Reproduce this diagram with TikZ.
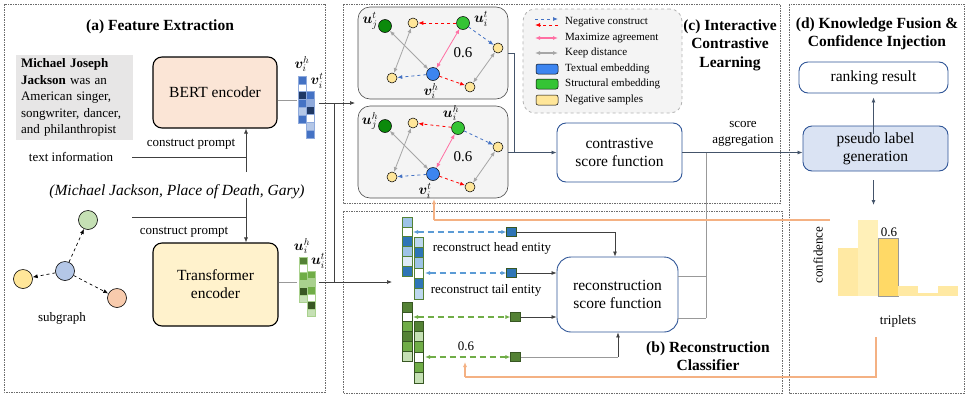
\documentclass[tikz,border=0pt]{standalone}
\usepackage{fontspec}
\setmainfont{Liberation Serif}
\usepackage{amsmath}
\usepackage{bm}
\usetikzlibrary{arrows.meta}
\definecolor{peach}{HTML}{FBE5D6}
\definecolor{lyellow}{HTML}{FFF2CC}
\definecolor{boxgray}{HTML}{E7E6E6}
\definecolor{innergray}{HTML}{F4F4F4}
\definecolor{tblue}{HTML}{3D85F0}
\definecolor{sgreen}{HTML}{35C435}
\definecolor{dgreen}{HTML}{0B8A0B}
\definecolor{negy}{HTML}{FFE699}
\definecolor{pinkc}{HTML}{FF6FA3}
\definecolor{navyb}{HTML}{2F5597}
\definecolor{slate}{HTML}{44546A}
\definecolor{orangec}{HTML}{F4B183}
\definecolor{dashb}{HTML}{4472C4}
\definecolor{lineb}{HTML}{5B9BD5}
\definecolor{lineg}{HTML}{70AD47}
\definecolor{plfill}{HTML}{DAE3F3}
\definecolor{sgblue}{HTML}{B4C7E7}
\definecolor{sggreen}{HTML}{C5E0B4}
\definecolor{sgpeach}{HTML}{F8CBAD}
\definecolor{cbm}{HTML}{4472C4}
\definecolor{cbn}{HTML}{1F3864}
\definecolor{cbl}{HTML}{B4C7E7}
\definecolor{cbl2}{HTML}{8FAADC}
\definecolor{cgd}{HTML}{385723}
\definecolor{cgm}{HTML}{70AD47}
\definecolor{cgm2}{HTML}{548235}
\definecolor{cgl}{HTML}{A9D18E}
\definecolor{cgl2}{HTML}{C5E0B4}
\definecolor{pbm}{HTML}{2E75B6}
\definecolor{pbl}{HTML}{9DC3E6}
\definecolor{pbl2}{HTML}{BDD7EE}
\definecolor{pbl3}{HTML}{DEEBF7}
\definecolor{bar1}{HTML}{FFE9A3}
\definecolor{bar2}{HTML}{FFF0B8}
\definecolor{bar3}{HTML}{FFD966}
\newcommand{\embcol}[6]{%
  \foreach \cc [count=\k from 0] in {#6}{%
    \filldraw[fill=\cc, draw=#5, line width=0.5pt] (#1,#2+\k*#4) rectangle ++(#3,#4);
  }}
\begin{document}
\begin{tikzpicture}[x=1pt,y=-1pt,
  >={Latex[length=5pt,width=4pt]},
  panel/.style={draw=gray!85!black, dash pattern=on 1.5pt off 1pt, line width=0.5pt},
  ttl/.style={font=\fontsize{15.5}{18.5}\selectfont\bfseries, align=center},
  txt/.style={font=\fontsize{13}{15}\selectfont, inner sep=1pt},
  bigtxt/.style={font=\fontsize{15.5}{18}\selectfont, align=center},
  enc/.style={draw=black, line width=1.1pt, rounded corners=9pt, bigtxt},
  sbox/.style={draw=navyb, line width=0.9pt, rounded corners=9pt, fill=white, bigtxt},
  ibox/.style={draw=gray!60!black, line width=0.6pt, rounded corners=12pt, fill=innergray, minimum width=150pt, minimum height=92pt},
  yn/.style={circle, draw=black, line width=0.5pt, fill=negy, minimum size=10pt, inner sep=0pt},
  gn/.style={circle, draw=black, line width=0.5pt, fill=sgreen, minimum size=13pt, inner sep=0pt},
  dgn/.style={circle, draw=black, line width=0.5pt, fill=dgreen, minimum size=13pt, inner sep=0pt},
  bnode/.style={circle, draw=black, line width=0.5pt, fill=tblue, minimum size=13pt, inner sep=0pt},
  sgn/.style={circle, draw=black, line width=0.6pt, minimum size=19pt, inner sep=0pt},
  negr/.style={->, draw=red, dashed, line width=0.8pt},
  negb/.style={->, draw=dashb, dashed, line width=0.8pt},
  maxa/.style={<->, draw=pinkc, line width=0.8pt},
  keepd/.style={<->, draw=gray!70, line width=0.8pt},
  mlab/.style={font=\fontsize{14}{16}\selectfont, inner sep=0pt},
  leglab/.style={font=\fontsize{11}{13}\selectfont, anchor=west, inner sep=0pt},
  legrect/.style={draw=black, line width=0.5pt, rounded corners=2pt, minimum width=22pt, minimum height=10pt, inner sep=0pt},
  sq/.style={draw=cgd, line width=0.6pt, minimum size=9.5pt, inner sep=0pt},
  conn/.style={draw=black!75, line width=0.7pt},
  sconn/.style={draw=slate, line width=0.8pt},
  orl/.style={draw=orangec, line width=1.3pt},
  bdash/.style={<->, dashed, dash pattern=on 6pt off 4pt, line width=1.2pt}
]
\useasboundingbox (0,0) rectangle (969,397);

% ---------------- panels
\draw[panel] (4,4) rectangle (325,392);
\draw[panel] (343,4) rectangle (780,203);
\draw[panel] (343,211) rectangle (782,393);
\draw[panel] (789,4) rectangle (964,393);

% ---------------- (a) Feature extraction
\node[ttl] (ta) at (160,27) {(a) Feature Extraction};
\node[fill=boxgray, minimum width=117pt, minimum height=85pt, text width=107pt, align=left,
      font=\fontsize{13}{16.5}\selectfont, inner xsep=5pt] (desc) at (74.5,97.5)
  {\textbf{Michael Joseph}\\\textbf{Jackson} was an\\American singer,\\songwriter, dancer,\\and philanthropist};
\node[enc, fill=peach, minimum width=124pt, minimum height=71pt] (bert) at (215,92.5) {BERT encoder};
\node[enc, fill=lyellow, minimum width=125pt, minimum height=83pt] (trans) at (215.5,284.5) {Transformer\\encoder};

\node[txt] (tinfo) at (71,157) {text information};
\node[txt] (cp1) at (191,144) {construct prompt};
\coordinate (ts) at (132,157);
\coordinate (tj) at (246,157);
\coordinate (tb) at (246,172);
\draw[conn] (ts) -- (tj);
\draw[conn,->] (tb) -- (tb |- bert.south);

\node[font=\fontsize{15.5}{18}\selectfont\itshape, inner sep=0pt] (triple) at (177,192) {(Michael Jackson, Place of Death, Gary)};

\coordinate (gs) at (132,217);
\coordinate (gj) at (246,217);
\coordinate (gt) at (246,198);
\draw[conn] (gs) -- (gj);
\draw[conn,->] (gt) -- (gt |- trans.north);
\node[txt] (cp2) at (184,232) {construct prompt};

% subgraph
\node[sgn, fill=sgblue] (sc) at (65,271) {};
\node[sgn, fill=sggreen] (sg) at (88,220) {};
\node[sgn, fill=negy] (sy) at (23,279) {};
\node[sgn, fill=sgpeach] (sp) at (117,298) {};
\draw[->, dashed, line width=0.7pt] (sc) -- (sg);
\draw[->, dashed, line width=0.7pt] (sc) -- (sy);
\draw[->, dashed, line width=0.7pt] (sc) -- (sp);
\node[txt] (subg) at (62,318) {subgraph};

% embeddings (a)
\embcol{298}{76}{8}{7.8}{cbl2}{cbm,white,cbn,cbm,cbl,cbm}
\embcol{306.5}{91}{8}{7.8}{cbl2}{cbm,cbl2,cbn,white,cbl,cbm}
\embcol{299}{257}{8}{7.6}{cgl}{cgm2,white,cgm,cgl,cgd,cgl2}
\embcol{307.5}{271}{8}{7.6}{cgl}{cgm,cgl,cgm,white,cgd,cgl2}
\node[mlab] (vh) at (302,64) {$\bm{v}_i^h$};
\node[mlab] (vt) at (317,81) {$\bm{v}_i^t$};
\node[mlab] (uh) at (302,246) {$\bm{u}_i^h$};
\node[mlab] (ut) at (318,261) {$\bm{u}_i^t$};
\coordinate (bertemb) at (297,100);
\coordinate (transemb) at (297,282);
\draw[draw=gray!80, line width=0.7pt] (bert.east |- bertemb) -- (bertemb);
\draw[draw=gray!80, line width=0.7pt] (trans.east |- transemb) -- (transemb);

\coordinate (vout) at (319,103);
\coordinate (vj) at (334,103);
\coordinate (uout) at (319,282);
\coordinate (uj) at (334,282);
\coordinate (cin) at (355,103);
\coordinate (bin) at (392,282);
\draw[conn,->] (vout) -- (cin);
\draw[conn] (vj) -- (uj);
\draw[conn,->] (uout) -- (bin);

% ---------------- (c) Interactive contrastive learning
\node[ibox] (box1) at (433,53) {};
\node[ibox] (box2) at (433,152) {};

% box1
\node[dgn] (uj1) at (385,26) {};
\node[yn] (y11) at (413,23) {};
\node[gn] (ui1) at (463,23) {};
\node[yn] (y12) at (498,48) {};
\node[yn] (y13) at (392,78) {};
\node[bnode] (vi1) at (433,74) {};
\node[yn] (y14) at (470,87) {};
\node[mlab] (luj1) at (370,21) {$\bm{u}_j^t$};
\node[mlab] (lui1) at (481,19) {$\bm{u}_i^t$};
\node[mlab] (lvi1) at (431,91) {$\bm{v}_i^h$};
\node[bigtxt, font=\fontsize{15}{17}\selectfont] (s1) at (463,53) {0.6};
\draw[keepd] (uj1) -- (vi1);
\draw[keepd] (y11) -- (y13);
\draw[keepd] (y12) -- (y14);
\draw[maxa] (vi1) -- (ui1);
\draw[negr] (ui1) -- (y11);
\draw[negb] (ui1) -- (y12);
\draw[negb] (vi1) -- (y13);
\draw[negr] (vi1) -- (y14);

% box2
\node[dgn] (uj2) at (385,126) {};
\node[yn] (y21) at (413,123) {};
\node[gn] (ui2) at (458,128) {};
\node[yn] (y22) at (498,147) {};
\node[yn] (y23) at (392,177) {};
\node[bnode] (vi2) at (433,174) {};
\node[yn] (y24) at (470,187) {};
\node[mlab] (luj2) at (370,121) {$\bm{u}_j^h$};
\node[mlab] (lui2) at (451,113) {$\bm{u}_i^h$};
\node[mlab] (lvi2) at (425,191) {$\bm{v}_i^t$};
\node[bigtxt, font=\fontsize{15}{17}\selectfont] (s2) at (463,157) {0.6};
\draw[keepd] (uj2) -- (vi2);
\draw[keepd] (y21) -- (y23);
\draw[keepd] (y22) -- (y24);
\draw[maxa] (vi2) -- (ui2);
\draw[negr] (ui2) -- (y21);
\draw[negb] (ui2) -- (y22);
\draw[negb] (vi2) -- (y23);
\draw[negr] (vi2) -- (y24);

% legend
\node[draw=gray!60, dashed, line width=0.8pt, fill=innergray, rounded corners=12pt,
      minimum width=159pt, minimum height=104pt] (leg) at (602.5,61) {};
\coordinate (l1a) at (535,19); \coordinate (l1b) at (558,19);
\coordinate (l1c) at (535,25); \coordinate (l1d) at (558,25);
\draw[negb] (l1a) -- (l1b);
\draw[negr] (l1d) -- (l1c);
\node[leglab] (lt1) at (565,22) {Negative construct};
\coordinate (l2a) at (535,38); \coordinate (l2b) at (558,38);
\draw[maxa, line width=1.2pt] (l2a) -- (l2b);
\node[leglab] (lt2) at (565,38) {Maximize agreement};
\coordinate (l3a) at (535,53); \coordinate (l3b) at (558,53);
\draw[keepd, line width=1.2pt] (l3a) -- (l3b);
\node[leglab] (lt3) at (565,53) {Keep distance};
\node[legrect, fill=tblue] (lr4) at (547,69) {};
\node[leglab] (lt4) at (565,69) {Textual embedding};
\node[legrect, fill=sgreen] (lr5) at (547,84) {};
\node[leglab] (lt5) at (565,84) {Structural embedding};
\node[legrect, fill=negy] (lr6) at (547,100) {};
\node[leglab] (lt6) at (565,100) {Negative samples};

\node[ttl] (tc) at (730,45) {(c) Interactive\\Contrastive\\Learning};

\node[sbox, minimum width=125pt, minimum height=59pt] (csf) at (619.5,152.5) {contrastive\\score function};
\coordinate (bj) at (514,152.5);
\draw[sconn] (box1.east) -| (bj);
\draw[sconn,->] (box2.east |- csf.west) -- (csf.west);

\node[txt, align=center, font=\fontsize{13}{16}\selectfont] (agg) at (743,134) {score\\aggregation};

% ---------------- (d)
\node[ttl] (td) at (877,34) {(d) Knowledge Fusion \&\\Confidence Injection};
\node[sbox, minimum width=149pt, minimum height=31pt] (rank) at (873.5,77.5) {ranking result};
\node[sbox, fill=plfill, minimum width=145pt, minimum height=45pt] (plg) at (875.5,148.5) {pseudo label\\generation};
\draw[sconn,->] ([yshift=-8pt]plg.north -| rank.south) -- ([yshift=-4pt]rank.south);
\coordinate (hist) at (873.5,205);
\draw[sconn,->] ([yshift=-9pt]plg.south -| hist) -- (hist);
\draw[sconn,->] (csf.east) -- (csf.east -| plg.west);

% histogram
\fill[bar1] (838,248) rectangle (858,296);
\fill[bar2] (858,220) rectangle (878,296);
\filldraw[fill=bar3, draw=gray!80, line width=0.6pt] (878,238) rectangle (898,296);
\fill[bar1] (898,286) rectangle (918,296);
\fill[bar1] (918,293) rectangle (938,296);
\fill[bar1] (938,286) rectangle (958,296);
\node[font=\fontsize{13}{15}\selectfont, inner sep=0pt] (b06) at (889,232) {0.6};
\node[txt, rotate=90] (conf) at (818,255) {confidence};
\node[txt] (trip) at (898,321) {triplets};

% ---------------- (b) Reconstruction classifier
\embcol{402}{217}{10}{9.8}{cgm2}{pbl,white,pbm,pbl,pbl3,pbm}
\embcol{414}{237}{9}{10.3}{cgm2}{pbl2,pbm,pbl,white,pbm,pbl2}
\embcol{402}{302}{10}{9.8}{cgd}{cgm2,white,cgm,cgm2,cgm,cgl2}
\embcol{414}{321}{9}{10.3}{cgd}{cgm2,cgl2,cgm,white,cgm,cgl2}

\node[sq, fill=pbm] (sq1) at (511.5,232) {};
\node[sq, fill=pbm] (sq2) at (511.5,273) {};
\node[sq, fill=cgm2] (sq3) at (515.5,317) {};
\node[sq, fill=cgm2] (sq4) at (515.5,357) {};
\coordinate (r1) at (413,232);
\coordinate (r2) at (425,273);
\coordinate (r3) at (413,317);
\coordinate (r4) at (425,357);
\draw[bdash, draw=lineb] (r1) -- (sq1.west);
\draw[bdash, draw=lineb] (r2) -- (sq2.west);
\draw[bdash, draw=lineg] (r3) -- (sq3.west);
\draw[bdash, draw=lineg] (r4) -- (sq4.west);
\node[txt] (rh) at (492,248) {reconstruct head entity};
\node[txt] (rt) at (486,290) {reconstruct tail entity};
\node[txt] (r06) at (466,346) {0.6};

\node[sbox, minimum width=121pt, minimum height=75pt, rounded corners=14pt] (rsf) at (617.5,294.5) {reconstruction\\score function};
\coordinate (k1) at (615,232);
\draw[conn] (sq1.east) -- (k1);
\draw[conn,->] (k1) -- (k1 |- rsf.north);
\draw[conn,->] (sq2.east) -- (sq2.east -| rsf.west);
\draw[conn,->] (sq3.east) -- (sq3.east -| rsf.west);
\coordinate (k4) at (618,357);
\draw[draw=gray!80, line width=0.7pt] (sq4.east) -- (k4);
\draw[conn,->] (k4) -- (k4 |- rsf.south);

\node[ttl] (tb) at (708,356) {(b) Reconstruction\\Classifier};

% aggregation lines
\coordinate (aj1) at (706,152.5);
\coordinate (aj2) at (706,318);
\coordinate (ra) at (678,276);
\coordinate (rb) at (678,318);
\draw[draw=gray!80, line width=0.7pt] (aj1) -- (aj2);
\draw[draw=gray!80, line width=0.7pt] (ra) -- (ra -| aj1);
\draw[draw=gray!80, line width=0.7pt] (rb) -- (aj2);

% orange feedback lines
\coordinate (o1s) at (830,220);
\coordinate (o1c) at (434,220);
\coordinate (o1e) at (434,199);
\draw[orl] (o1s) -- (o1c);
\draw[orl,->] (o1c) -- (o1e);
\coordinate (o2s) at (876,337);
\coordinate (o2c) at (876,377);
\coordinate (o2d) at (465,377);
\coordinate (o2e) at (465,362);
\draw[orl] (o2s) -- (o2c) -- (o2d);
\draw[orl,->] (o2d) -- (o2e);
\end{tikzpicture}
\end{document}
